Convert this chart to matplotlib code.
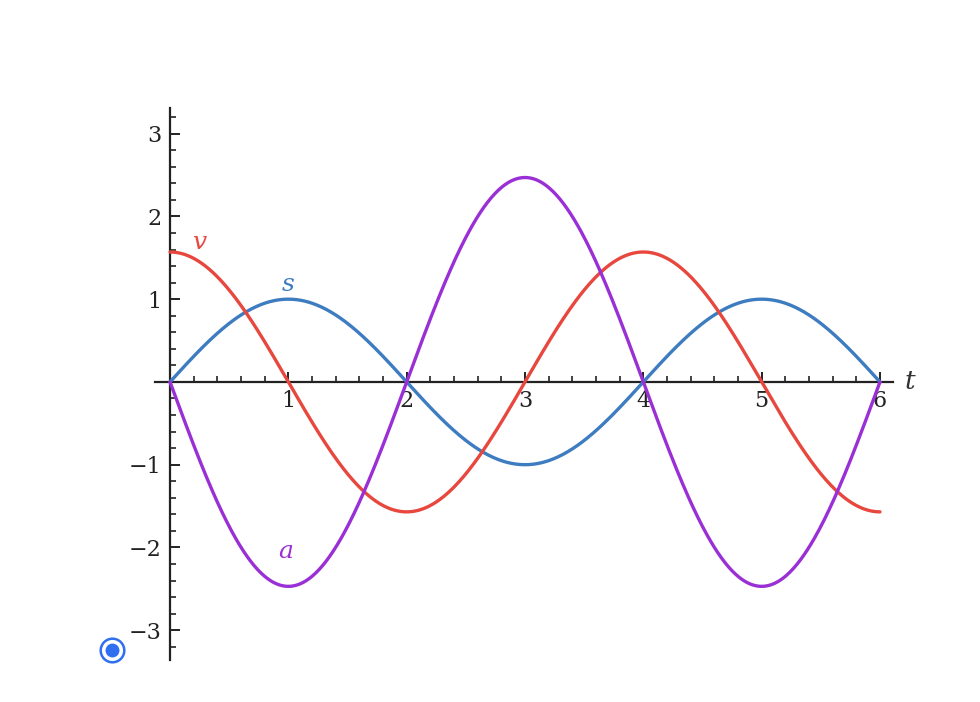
import numpy as np
import matplotlib.pyplot as plt
from matplotlib.lines import Line2D
from matplotlib.ticker import MultipleLocator

# curves: s, v, a are sine waves with period 4 on t in [0, 6]
names = ['s', 'v', 'a']
amplitudes = [1.0, 1.57, -2.47]     # peak value at t = 1 (s, a) or t = 0 (v)
phases = [0.0, 0.5, 0.0]            # phase shift in units of pi
period = 4.0
t_range = [0, 6]
colors = ['#3d7cc0', '#e8473e', '#9a2fd6']
label_pos = [(1.0, 1.18), (0.25, 1.68), (0.98, -2.05)]

x_ticks = [1, 2, 3, 4, 5, 6]
y_ticks = [-3, -2, -1, 1, 2, 3]
y_labels = ['\u22123', '\u22122', '\u22121', '1', '2', '3']

fig = plt.figure(figsize=(9.8, 7.02), dpi=100)
ax = fig.add_axes([155 / 980, 1 - 660 / 702, 738 / 980, 552 / 702])

t = np.linspace(t_range[0], t_range[1], 600)
for name, amp, ph, col, (lx, ly) in zip(names, amplitudes, phases, colors, label_pos):
    y = amp * np.sin(2 * np.pi * t / period + ph * np.pi)
    ax.plot(t, y, color=col, lw=2.4, solid_capstyle='round', zorder=3)
    ax.text(lx, ly, name, color=col, fontsize=18, style='italic',
            family='DejaVu Serif', ha='center', va='center')

ax.set_xlim(-0.127, 6.11)
ax.set_ylim(-3.36, 3.31)

for side in ['top', 'right']:
    ax.spines[side].set_visible(False)
ax.spines['left'].set_position(('data', 0))
ax.spines['bottom'].set_position(('data', 0))
for side in ['left', 'bottom']:
    ax.spines[side].set_linewidth(1.6)
    ax.spines[side].set_color('#222222')

ax.xaxis.set_minor_locator(MultipleLocator(0.2))
ax.yaxis.set_minor_locator(MultipleLocator(0.2))
ax.set_xticks(x_ticks)
ax.set_yticks(y_ticks)
ax.set_xticklabels([str(v) for v in x_ticks])
ax.set_yticklabels(y_labels)

ax.tick_params(axis='both', which='both', direction='in', color='#222222', pad=6)
ax.tick_params(axis='both', which='major', length=7, width=1.4)
ax.tick_params(axis='both', which='minor', length=4, width=1.2)

for lab in ax.get_xticklabels() + ax.get_yticklabels():
    lab.set_fontfamily('DejaVu Serif')
    lab.set_fontsize(16)
    lab.set_color('#222222')

ax.text(6.25, 0, 't', fontsize=19, style='italic', family='DejaVu Serif',
        color='#333333', ha='center', va='center', clip_on=False)

# small radio-button marker at lower left
fig.add_artist(Line2D([112 / 980], [1 - 650 / 702], transform=fig.transFigure,
                      marker='o', markersize=17, markerfacecolor='white',
                      markeredgecolor='#2f6ff0', markeredgewidth=1.8))
fig.add_artist(Line2D([112 / 980], [1 - 650 / 702], transform=fig.transFigure,
                      marker='o', markersize=10, markerfacecolor='#2f6ff0',
                      markeredgecolor='none'))

fig.savefig('out.png', dpi=100)
